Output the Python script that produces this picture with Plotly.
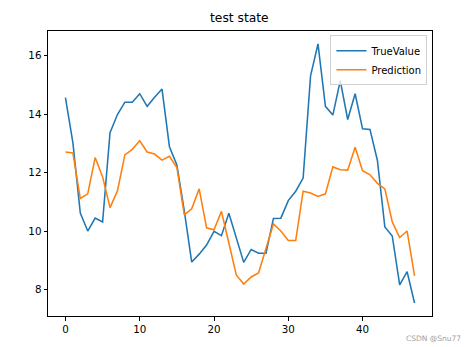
import plotly.graph_objects as go

x_index = list(range(48))
true_value = [14.57, 13.03, 10.62, 10.01, 10.45, 10.32, 13.37, 13.99, 14.41, 14.41,
              14.70, 14.27, 14.58, 14.86, 12.89, 12.27, 10.70, 8.95, 9.22, 9.53,
              10.00, 9.85, 10.62, 9.80, 8.94, 9.38, 9.25, 9.25, 10.44, 10.45,
              11.05, 11.37, 11.82, 15.31, 16.40, 14.27, 13.97, 15.15, 13.82, 14.70,
              13.50, 13.48, 12.42, 10.15, 9.84, 8.17, 8.62, 7.55]
prediction = [12.71, 12.68, 11.12, 11.28, 12.52, 11.86, 10.81, 11.38, 12.61, 12.80,
              13.09, 12.71, 12.64, 12.43, 12.56, 12.18, 10.56, 10.77, 11.45, 10.12,
              10.05, 10.68, 9.60, 8.51, 8.20, 8.44, 8.58, 9.38, 10.25, 10.01,
              9.69, 9.69, 11.37, 11.31, 11.19, 11.28, 12.20, 12.10, 12.09, 12.87,
              12.07, 11.93, 11.64, 11.45, 10.32, 9.79, 10.01, 8.48]
x_ticks = [0, 10, 20, 30, 40]
y_ticks = [8, 10, 12, 14, 16]
title_text = "test state"
watermark = "CSDN @Snu77"

font = "DejaVu Sans"

fig = go.Figure()
fig.add_trace(go.Scatter(x=x_index, y=true_value, mode="lines", name="TrueValue",
                         line=dict(color="#1f77b4", width=1.55)))
fig.add_trace(go.Scatter(x=x_index, y=prediction, mode="lines", name="Prediction",
                         line=dict(color="#ff7f0e", width=1.55)))

xmin, xmax = min(x_index), max(x_index)
xpad = (xmax - xmin) * 0.05
all_y = true_value + prediction
ymin, ymax = min(all_y), max(all_y)
ypad = (ymax - ymin) * 0.05

axis_common = dict(showgrid=False, zeroline=False, showline=True, linecolor="black",
                   linewidth=1, mirror=True, ticks="outside", ticklen=3.5,
                   tickwidth=0.8, tickcolor="black",
                   tickfont=dict(family=font, size=10.3, color="black"))

fig.update_layout(
    width=474, height=347,
    margin=dict(l=48, r=42, t=31, b=31),
    paper_bgcolor="white", plot_bgcolor="white",
    title=dict(text=title_text, x=0.505, xanchor="center", y=1 - 18 / 347, yanchor="middle",
               font=dict(family=font, size=12.3, color="black")),
    xaxis=dict(range=[xmin - xpad, xmax + xpad], tickvals=x_ticks, **axis_common),
    yaxis=dict(range=[ymin - ypad, ymax + ypad], tickvals=y_ticks, **axis_common),
    legend=dict(x=0.988, xanchor="right", y=0.985, yanchor="top",
                bgcolor="rgba(255,255,255,0.8)", bordercolor="#d0d0d0", borderwidth=1,
                font=dict(family=font, size=10, color="black"),
                itemwidth=30, tracegroupgap=0),
    showlegend=True,
)

fig.add_annotation(text=watermark, xref="paper", yref="paper", x=(463 - 48) / 384, y=-22 / 285,
                   xanchor="right", yanchor="middle", showarrow=False,
                   font=dict(family=font, size=7.5, color="#a0a0a0"))

fig.write_html("out.html")
